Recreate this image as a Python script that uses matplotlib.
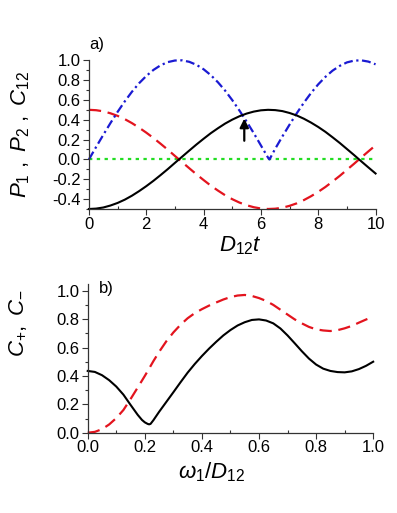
import numpy as np
import matplotlib
matplotlib.use("Agg")
import matplotlib.pyplot as plt
from matplotlib.ticker import MultipleLocator, FormatStrFormatter

plt.rcParams["font.family"] = ["Liberation Sans", "DejaVu Sans"]
plt.rcParams["mathtext.fontset"] = "custom"
plt.rcParams["mathtext.rm"] = "Liberation Sans"
plt.rcParams["mathtext.it"] = "Liberation Sans:italic"
plt.rcParams["axes.unicode_minus"] = False

# ---- panel a) : time evolution, D12 t from 0 to 10 (step 0.25)
t = np.arange(0, 10.01, 0.25)
p1 = [0.500, 0.496, 0.485, 0.465, 0.439, 0.406, 0.366, 0.320, 0.270, 0.216, 0.158,
      0.098, 0.035, -0.027, -0.089, -0.150, -0.208, -0.264, -0.314, -0.361, -0.401,
      -0.435, -0.462, -0.482, -0.495, -0.500, -0.497, -0.487, -0.468, -0.443, -0.410,
      -0.371, -0.327, -0.278, -0.223, -0.166, -0.105, -0.044, 0.019, 0.081, 0.142]
c12 = [-0.500, -0.496, -0.485, -0.465, -0.439, -0.406, -0.366, -0.320, -0.270, -0.216,
       -0.158, -0.098, -0.035, 0.027, 0.089, 0.150, 0.208, 0.264, 0.314, 0.361, 0.401,
       0.435, 0.462, 0.482, 0.495, 0.500, 0.497, 0.487, 0.468, 0.443, 0.410, 0.371,
       0.327, 0.278, 0.223, 0.166, 0.105, 0.044, -0.019, -0.081, -0.142]
p2 = [0.0] * len(t)
# blue curve has a cusp at ~6.3
t_conc = np.sort(np.append(t, 6.3))
conc = [0.000, 0.125, 0.247, 0.366, 0.479, 0.585, 0.682, 0.768, 0.841, 0.902, 0.949,
        0.981, 0.997, 0.999, 0.984, 0.954, 0.909, 0.850, 0.778, 0.694, 0.598, 0.493,
        0.382, 0.265, 0.141, 0.017, 0.000, 0.108, 0.232, 0.351, 0.465, 0.572, 0.670,
        0.757, 0.832, 0.895, 0.943, 0.978, 0.996, 0.999, 0.986, 0.959]
arrow_x, arrow_y0, arrow_y1 = 5.42, 0.16, 0.44

# ---- panel b) : C+ / C- vs w1/D12
w = [0.0, 0.025, 0.05, 0.075, 0.1, 0.125, 0.15, 0.175, 0.19, 0.2, 0.21, 0.215, 0.22,
     0.23, 0.25, 0.275, 0.3, 0.325, 0.35, 0.375, 0.4, 0.425, 0.45, 0.475, 0.5, 0.525,
     0.55, 0.575, 0.6, 0.625, 0.65, 0.675, 0.7, 0.725, 0.75, 0.775, 0.8, 0.825, 0.85,
     0.875, 0.9, 0.925, 0.95, 0.975, 1.0]
c_plus = [0.435, 0.428, 0.405, 0.370, 0.325, 0.268, 0.196, 0.126, 0.090, 0.073, 0.062,
          0.059, 0.062, 0.088, 0.147, 0.216, 0.285, 0.355, 0.423, 0.484, 0.540, 0.592,
          0.640, 0.685, 0.723, 0.755, 0.778, 0.794, 0.798, 0.790, 0.770, 0.734, 0.685,
          0.630, 0.574, 0.522, 0.480, 0.451, 0.435, 0.427, 0.425, 0.432, 0.448, 0.471,
          0.500]
c_minus = [0.000, 0.006, 0.025, 0.058, 0.103, 0.160, 0.237, 0.318, 0.367, 0.400, 0.434,
           0.451, 0.469, 0.504, 0.569, 0.643, 0.706, 0.760, 0.806, 0.842, 0.870, 0.895,
           0.917, 0.938, 0.955, 0.966, 0.970, 0.963, 0.948, 0.928, 0.900, 0.866, 0.832,
           0.798, 0.770, 0.745, 0.728, 0.720, 0.716, 0.722, 0.735, 0.752, 0.775, 0.797,
           0.817]

RED = "#e3141e"
BLUE = "#1a1ad2"
GREEN = "#22dd22"


def style_axes(ax):
    for s in ("top", "right"):
        ax.spines[s].set_visible(False)
    for s in ("left", "bottom"):
        ax.spines[s].set_linewidth(0.9)
        ax.spines[s].set_color("#333333")
    ax.tick_params(which="major", direction="out", length=4, width=0.8,
                   labelsize=12, color="#333333")
    ax.tick_params(axis="y", which="minor", direction="out", length=2.5, width=0.8,
                   color="#333333")
    ax.tick_params(axis="x", which="minor", direction="in", length=2.5, width=0.8,
                   color="#333333")
    ax.tick_params(axis="y", pad=2)
    ax.tick_params(axis="x", pad=1.5)


fig = plt.figure(figsize=(3.97, 5.13), dpi=100)

# panel a
ax1 = fig.add_axes([0.224, 0.5926, 0.722, 0.290])
ax1.plot(t, p2, color=GREEN, lw=1.6, dashes=(1.5, 2.0), clip_on=False)
ax1.plot(t, p1, color=RED, lw=1.6, dashes=(5.5, 3.0), clip_on=False)
ax1.plot(t_conc, conc, color=BLUE, lw=1.6, dashes=(4, 1.6, 1, 1.6), clip_on=False)
ax1.plot(t, c12, color="black", lw=1.5, clip_on=False)
ax1.annotate("", xy=(arrow_x, arrow_y1), xytext=(arrow_x, arrow_y0),
             arrowprops=dict(arrowstyle="-|>", color="black", lw=1.6, mutation_scale=13))
ax1.set_xlim(0, 10)
ax1.set_ylim(-0.5, 1.0)
ax1.xaxis.set_major_locator(MultipleLocator(2))
ax1.xaxis.set_minor_locator(MultipleLocator(1))
ax1.yaxis.set_major_locator(MultipleLocator(0.2))
ax1.yaxis.set_minor_locator(MultipleLocator(0.1))
ax1.yaxis.set_major_formatter(FormatStrFormatter("%.1f"))
style_axes(ax1)
ax1.set_xlabel(r"$\mathit{D}_{\mathit{12}}\mathit{t}$", fontsize=16)
ax1.xaxis.set_label_coords(0.527, -0.17)
ax1.set_ylabel(r"$\mathit{P}_{\mathit{1}}\ ,\ \mathit{P}_{\mathit{2}}\ ,\ \mathit{C}_{\mathit{12}}$",
               fontsize=16)
ax1.yaxis.set_label_coords(-0.2, 0.5)
ax1.text(0.0, 1.076, "a)", transform=ax1.transAxes, fontsize=12, va="baseline")

# panel b
ax2 = fig.add_axes([0.221, 0.1565, 0.719, 0.2893])
ax2.plot(w, c_minus, color=RED, lw=1.6, dashes=(5.5, 3.0), clip_on=False)
ax2.plot(w, c_plus, color="black", lw=1.5, clip_on=False)
ax2.set_xlim(0, 1.0)
ax2.set_ylim(0, 1.045)
ax2.xaxis.set_major_locator(MultipleLocator(0.2))
ax2.xaxis.set_minor_locator(MultipleLocator(0.1))
ax2.yaxis.set_major_locator(MultipleLocator(0.2))
ax2.yaxis.set_minor_locator(MultipleLocator(0.1))
ax2.xaxis.set_major_formatter(FormatStrFormatter("%.1f"))
ax2.yaxis.set_major_formatter(FormatStrFormatter("%.1f"))
style_axes(ax2)
ax2.set_xlabel(r"$\mathit{\omega}_{\mathit{1}}\mathit{/D}_{\mathit{12}}$", fontsize=16)
ax2.xaxis.set_label_coords(0.435, -0.185)
ax2.set_ylabel(r"$\mathit{C}_{+},\ \mathit{C}_{-}$", fontsize=16)
ax2.yaxis.set_label_coords(-0.205, 0.74)
ax2.text(0.04, 0.941, "b)", transform=ax2.transAxes, fontsize=12, va="baseline")

fig.savefig("out.png", dpi=100)
